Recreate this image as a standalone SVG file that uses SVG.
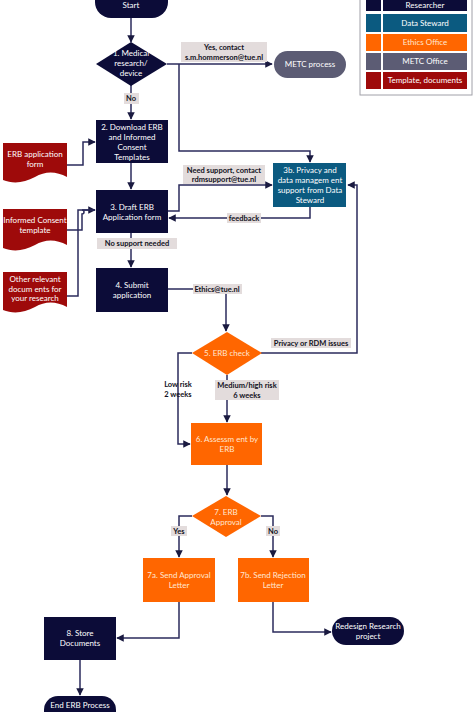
<svg xmlns="http://www.w3.org/2000/svg" width="474" height="712" viewBox="0 0 474 712">
<style>
.res{fill:#0c0c38}
.ds{fill:#0b5a80}
.eo{fill:#ff6600}
.mo{fill:#5c5c74}
.doc{fill:#9e0a0a}
.nt{font-family:Lato,"Open Sans",sans-serif;font-size:8px;fill:#ffffff;text-anchor:middle}
.ot{font-family:Lato,"Open Sans",sans-serif;font-size:8px;fill:#ffe6d2;text-anchor:middle}
.lt{font-family:Lato,"Open Sans",sans-serif;font-size:7.5px;font-weight:bold;fill:#111122;text-anchor:middle}
.lb{fill:#e3dcdc}
.c{fill:none;stroke:#2b2b5c;stroke-width:1.5}
</style>
<defs>
<marker id="ah" viewBox="0 0 10 10" refX="9" refY="5" markerWidth="5" markerHeight="5" orient="auto">
<path d="M0,0 L10,5 L0,10 Z" fill="#1a1a40"/>
</marker>
</defs>
<rect width="474" height="712" fill="#ffffff"/>

<g id="legend">
<rect x="360" y="-5" width="112" height="100" fill="#ffffff" stroke="#a0a0a8" stroke-width="1"/>
<rect class="res" x="366" y="-10" width="15" height="21"/><rect class="res" x="383" y="-10" width="84" height="21"/>
<text class="nt" x="425" y="8">Researcher</text>
<rect class="ds" x="366" y="14" width="15" height="18"/><rect class="ds" x="383" y="14" width="84" height="18"/>
<text class="nt" x="425" y="26">Data Steward</text>
<rect class="eo" x="366" y="34" width="15" height="17"/><rect class="eo" x="383" y="34" width="84" height="17"/>
<text class="ot" x="425" y="45">Ethics Office</text>
<rect class="mo" x="366" y="53" width="15" height="17"/><rect class="mo" x="383" y="53" width="84" height="17"/>
<text class="nt" x="425" y="64">METC Office</text>
<rect class="doc" x="366" y="72" width="15" height="17"/><rect class="doc" x="383" y="72" width="84" height="17"/>
<text class="nt" x="425" y="83">Template, documents</text>
</g>

<g id="connectors">
<path class="c" d="M131,18 V42" marker-end="url(#ah)"/>
<path class="c" d="M167,64 H272" marker-end="url(#ah)"/>
<path class="c" d="M179,64 V151 H310 V162" marker-end="url(#ah)"/>
<path class="c" d="M131,85 V119" marker-end="url(#ah)"/>
<path class="c" d="M131,163 V189" marker-end="url(#ah)"/>
<path class="c" d="M131,233 V267" marker-end="url(#ah)"/>
<path class="c" d="M67,165 H83 V142 H95" marker-end="url(#ah)"/>
<path class="c" d="M67,230 H82 V214 A2,2 0 0 0 82,210 V210 H95" marker-end="url(#ah)"/>
<path class="c" d="M67,296 H78 V210 H95"/>
<path class="c" d="M168,211 H179 V185 H272" marker-end="url(#ah)"/>
<path class="c" d="M310,207 V218 H169" marker-end="url(#ah)"/>
<path class="c" d="M168,289 H226 V331" marker-end="url(#ah)"/>
<path class="c" d="M261,353 H357 V185 H348" marker-end="url(#ah)"/>
<path class="c" d="M192,353 H178 V444 H190" marker-end="url(#ah)"/>
<path class="c" d="M227,375 V422" marker-end="url(#ah)"/>
<path class="c" d="M227,465 V495" marker-end="url(#ah)"/>
<path class="c" d="M192,516 H179 V557" marker-end="url(#ah)"/>
<path class="c" d="M261,516 H273 V557" marker-end="url(#ah)"/>
<path class="c" d="M179,602 V638 H117" marker-end="url(#ah)"/>
<path class="c" d="M273,602 V632 H331" marker-end="url(#ah)"/>
<path class="c" d="M80,660 V695" marker-end="url(#ah)"/>

<rect class="lb" x="181" y="42" width="86" height="20"/>
<text class="lt" x="224" y="50">Yes, contact</text>
<text class="lt" x="224" y="59.5">s.m.hommerson@tue.nl</text>
<rect class="lb" x="124" y="93" width="15" height="11"/>
<text class="lt" x="131" y="101">No</text>
<rect class="lb" x="97" y="238" width="80" height="11"/>
<text class="lt" x="137" y="246">No support needed</text>
<rect class="lb" x="183" y="165" width="82" height="19"/>
<text class="lt" x="224" y="172.5">Need support, contact</text>
<text class="lt" x="224" y="182">rdmsupport@tue.nl</text>
<rect class="lb" x="227" y="213" width="34" height="10"/>
<text class="lt" x="244" y="221">feedback</text>
<rect class="lb" x="193" y="284" width="49" height="10"/>
<text class="lt" x="217" y="292">Ethics@tue.nl</text>
<rect class="lb" x="271" y="338" width="80" height="10"/>
<text class="lt" x="311" y="346">Privacy or RDM issues</text>
<text class="lt" x="178" y="387">Low risk</text>
<text class="lt" x="178" y="397">2 weeks</text>
<rect class="lb" x="215" y="380" width="64" height="20"/>
<text class="lt" x="247" y="388">Medium/high risk</text>
<text class="lt" x="247" y="398">6 weeks</text>
<rect class="lb" x="171" y="526" width="16" height="10"/>
<text class="lt" x="179" y="534">Yes</text>
<rect class="lb" x="266" y="526" width="14" height="10"/>
<text class="lt" x="273" y="534">No</text>
</g>

<g id="start">
<rect class="res" x="95" y="-20" width="73" height="38" rx="16"/>
<text class="nt" x="131" y="8">Start</text>
</g>
<g id="medical">
<path class="res" d="M131,42 L167,64 L131,86 L96,64 Z"/>
<text class="nt" x="131" y="56">1. Medical</text>
<text class="nt" x="131" y="66">research/</text>
<text class="nt" x="131" y="76">device</text>
</g>
<g id="metc">
<rect class="mo" x="274" y="51" width="72" height="27" rx="13.5"/>
<text class="nt" x="310" y="67">METC process</text>
</g>
<g id="download">
<rect class="res" x="96" y="120" width="72" height="43"/>
<text class="nt" x="132" y="130">2. Download ERB</text>
<text class="nt" x="132" y="140">and Informed</text>
<text class="nt" x="132" y="150">Consent</text>
<text class="nt" x="132" y="160">Templates</text>
</g>
<g id="draft">
<rect class="res" x="96" y="190" width="72" height="43"/>
<text class="nt" x="132" y="210">3. Draft ERB</text>
<text class="nt" x="132" y="220">Application form</text>
</g>
<g id="privacy">
<rect class="ds" x="273" y="163" width="73" height="44"/>
<text class="nt" x="310" y="173">3b. Privacy and</text>
<text class="nt" x="310" y="183">data managem ent</text>
<text class="nt" x="310" y="193">support from Data</text>
<text class="nt" x="310" y="203">Steward</text>
</g>
<g id="submit">
<rect class="res" x="96" y="268" width="72" height="44"/>
<text class="nt" x="132" y="288">4. Submit</text>
<text class="nt" x="132" y="298">application</text>
</g>
<g id="doc-erb">
<path class="doc" d="M3,143 H67 V177 C56,171 45,171 35,177 C24,183 13,184 3,180 Z"/>
<text class="nt" x="35" y="157">ERB application</text>
<text class="nt" x="35" y="167">form</text>
</g>
<g id="doc-consent">
<path class="doc" d="M3,209 H67 V245 C56,239 45,239 35,245 C24,251 13,252 3,248 Z"/>
<text class="nt" x="35" y="223">Informed Consent</text>
<text class="nt" x="35" y="233">template</text>
</g>
<g id="doc-other">
<path class="doc" d="M3,272 H67 V307 C56,301 45,301 35,307 C24,313 13,314 3,310 Z"/>
<text class="nt" x="35" y="282">Other relevant</text>
<text class="nt" x="35" y="291.5">docum ents for</text>
<text class="nt" x="35" y="301">your research</text>
</g>
<g id="erbcheck">
<path class="eo" d="M227,332 L262,353 L227,375 L192,353 Z"/>
<text class="ot" x="227" y="356">5. ERB check</text>
</g>
<g id="assessment">
<rect class="eo" x="191" y="423" width="71" height="42"/>
<text class="ot" x="227" y="442">6. Assessm ent by</text>
<text class="ot" x="227" y="452">ERB</text>
</g>
<g id="approval">
<path class="eo" d="M226,496 L261,516 L226,537 L192,516 Z"/>
<text class="ot" x="226" y="515">7. ERB</text>
<text class="ot" x="226" y="525">Approval</text>
</g>
<g id="approval-letter">
<rect class="eo" x="143" y="558" width="72" height="44"/>
<text class="ot" x="179" y="578">7a. Send Approval</text>
<text class="ot" x="179" y="588">Letter</text>
</g>
<g id="rejection-letter">
<rect class="eo" x="238" y="558" width="71" height="44"/>
<text class="ot" x="273" y="578">7b. Send Rejection</text>
<text class="ot" x="273" y="588">Letter</text>
</g>
<g id="store">
<rect class="res" x="44" y="617" width="72" height="43"/>
<text class="nt" x="80" y="636">8. Store</text>
<text class="nt" x="80" y="646">Documents</text>
</g>
<g id="redesign">
<rect class="res" x="332" y="617" width="72" height="28" rx="14"/>
<text class="nt" x="368" y="629">Redesign Research</text>
<text class="nt" x="368" y="639">project</text>
</g>
<g id="end">
<rect class="res" x="44" y="696" width="72" height="36" rx="14"/>
<text class="nt" x="80" y="708">End ERB Process</text>
</g>
</svg>
